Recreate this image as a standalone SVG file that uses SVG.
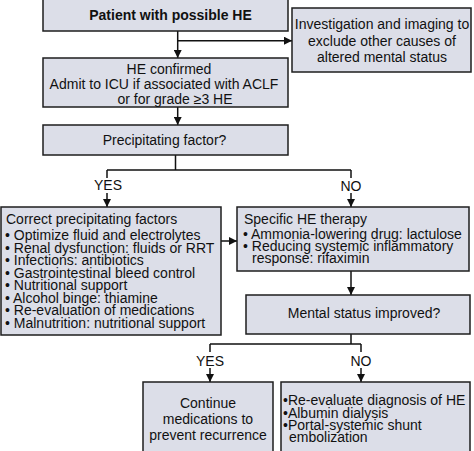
<svg xmlns="http://www.w3.org/2000/svg" width="474" height="451" viewBox="0 0 474 451">
<defs>
<style>
.box{fill:#dcdee8;stroke:#1e1e1e;stroke-width:1.5}
text{font-family:"Liberation Sans",Arial,sans-serif;font-size:14px;fill:#111}
.b{font-weight:bold}
.c{text-anchor:middle}
.ln{fill:none;stroke:#111;stroke-width:1.5}
</style>
<marker id="ah" viewBox="0 0 10 10" refX="10" refY="5" markerWidth="8" markerHeight="8" markerUnits="userSpaceOnUse" orient="auto">
<path d="M0,0 L10,5 L0,10 z" fill="#111"/>
</marker>
</defs>
<rect width="474" height="451" fill="#fff"/>

<g id="connectors">
<path class="ln" d="M177.7,31 V58" marker-end="url(#ah)"/>
<path class="ln" d="M177.7,40.7 H292" marker-end="url(#ah)"/>
<path class="ln" d="M177.7,107 V125" marker-end="url(#ah)"/>
<path class="ln" d="M175.5,155 V170 M107,170 H351"/>
<path class="ln" d="M107,170 V178"/>
<path class="ln" d="M107,193 V207" marker-end="url(#ah)"/>
<path class="ln" d="M351,170 V178"/>
<path class="ln" d="M351,193 V207" marker-end="url(#ah)"/>
<path class="ln" d="M221,241 H237" marker-end="url(#ah)"/>
<path class="ln" d="M351,271 V295" marker-end="url(#ah)"/>
<path class="ln" d="M351,334 V344 M210,344 H361"/>
<path class="ln" d="M210,344 V352"/>
<path class="ln" d="M210,368 V382" marker-end="url(#ah)"/>
<path class="ln" d="M361,344 V352"/>
<path class="ln" d="M361,368 V382" marker-end="url(#ah)"/>
<text class="c" x="108" y="190">YES</text>
<text class="c" x="351" y="191">NO</text>
<text class="c" x="210" y="366">YES</text>
<text class="c" x="361" y="366">NO</text>
</g>

<g id="n1">
<rect class="box" x="43" y="-2" width="245" height="33"/>
<text class="b c" x="170.5" y="20">Patient with possible HE</text>
</g>

<g id="n2">
<rect class="box" x="292" y="8" width="179" height="64"/>
<text class="c" x="382" y="29">Investigation and imaging to</text>
<text class="c" x="382" y="45.5">exclude other causes of</text>
<text class="c" x="382" y="61.5">altered mental status</text>
</g>

<g id="n3">
<rect class="box" x="43" y="58" width="245" height="49"/>
<text class="c" x="169" y="74">HE confirmed</text>
<text class="c" x="164" y="88.5">Admit to ICU if associated with ACLF</text>
<text class="c" x="175" y="103.5">or for grade ≥3 HE</text>
</g>

<g id="n4">
<rect class="box" x="43" y="125" width="245" height="30"/>
<text class="c" x="164.5" y="145">Precipitating factor?</text>
</g>

<g id="n5">
<rect class="box" x="1" y="207" width="220" height="128"/>
<text x="6" y="224">Correct precipitating factors</text>
<text x="5" y="240">• Optimize fluid and electrolytes</text>
<text x="5" y="252.5">• Renal dysfunction: fluids or RRT</text>
<text x="5" y="265">• Infections: antibiotics</text>
<text x="5" y="277.5">• Gastrointestinal bleed control</text>
<text x="5" y="290">• Nutritional support</text>
<text x="5" y="302.5">• Alcohol binge: thiamine</text>
<text x="5" y="315">• Re-evaluation of medications</text>
<text x="5" y="327.5">• Malnutrition: nutritional support</text>
</g>

<g id="n6">
<rect class="box" x="237" y="207" width="232" height="64"/>
<text x="244" y="224">Specific HE therapy</text>
<text x="243" y="238.5">• Ammonia-lowering drug: lactulose</text>
<text x="243" y="250.5">• Reducing systemic inflammatory</text>
<text x="252" y="262.5">response: rifaximin</text>
</g>

<g id="n7">
<rect class="box" x="246" y="295" width="224" height="39"/>
<text class="c" x="364" y="318">Mental status improved?</text>
</g>

<g id="n8">
<rect class="box" x="143" y="382" width="130" height="72"/>
<text class="c" x="208" y="408">Continue</text>
<text class="c" x="208" y="424">medications to</text>
<text class="c" x="208" y="439.5">prevent recurrence</text>
</g>

<g id="n9">
<rect class="box" x="281" y="382" width="189" height="72"/>
<text x="283" y="405">•Re-evaluate diagnosis of HE</text>
<text x="283" y="417.5">•Albumin dialysis</text>
<text x="283" y="430">•Portal-systemic shunt</text>
<text x="289" y="442">embolization</text>
</g>
</svg>
